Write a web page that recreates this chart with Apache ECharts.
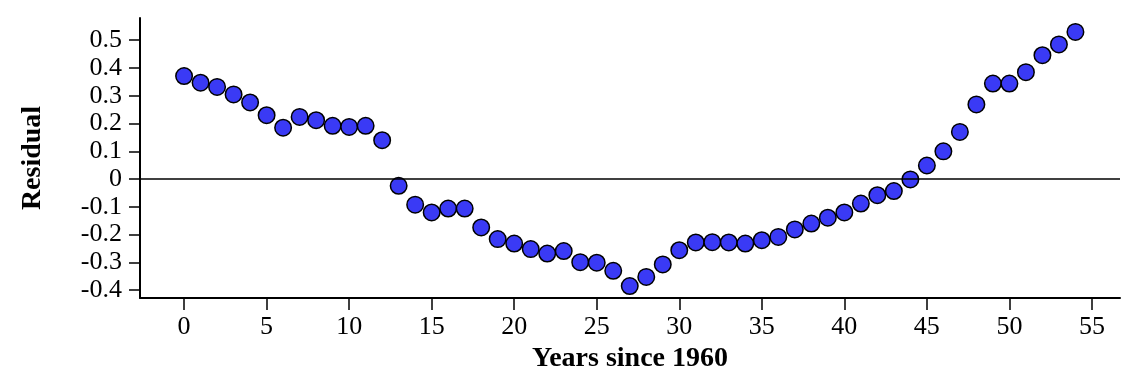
<!DOCTYPE html>
<html>
<head>
<meta charset="utf-8">
<script src="https://cdn.jsdelivr.net/npm/echarts@6/dist/echarts.min.js"></script>
<style>html,body{margin:0;padding:0;background:#fff}#c{width:1130px;height:388px}</style>
</head>
<body>
<div id="c"></div>
<script>
const years = [0,1,2,3,4,5,6,7,8,9,10,11,12,13,14,15,16,17,18,19,20,21,22,23,24,25,26,27,28,29,30,31,32,33,34,35,36,37,38,39,40,41,42,43,44,45,46,47,48,49,50,51,52,53,54];
const residuals = [0.371,0.347,0.332,0.305,0.276,0.230,0.185,0.224,0.212,0.192,0.188,0.192,0.140,-0.024,-0.092,-0.120,-0.106,-0.106,-0.174,-0.216,-0.232,-0.252,-0.268,-0.259,-0.299,-0.301,-0.330,-0.385,-0.352,-0.307,-0.256,-0.228,-0.227,-0.228,-0.232,-0.220,-0.208,-0.181,-0.160,-0.139,-0.120,-0.088,-0.058,-0.043,-0.001,0.049,0.100,0.170,0.269,0.344,0.344,0.385,0.446,0.485,0.530];
const xTicks = [0,5,10,15,20,25,30,35,40,45,50,55];
const yTicks = [-0.4,-0.3,-0.2,-0.1,0,0.1,0.2,0.3,0.4,0.5];

const data = years.map((x,i)=>[x,residuals[i]]);
const font = 'Liberation Serif';
const chart = echarts.init(document.getElementById('c'));
chart.setOption({
  animation:false,
  grid:{left:140,right:10,top:18,bottom:90},
  xAxis:{
    type:'value', min:-2.67, max:56.7,
    name:'Years since 1960', nameLocation:'middle', nameGap:46,
    nameTextStyle:{fontFamily:font,fontWeight:'bold',fontSize:28,color:'#000'},
    axisLine:{show:true,onZero:false,lineStyle:{color:'#000',width:2}},
    axisTick:{show:true,customValues:xTicks,length:12,lineStyle:{color:'#000',width:1.5}},
    axisLabel:{customValues:xTicks,fontFamily:font,fontSize:26,color:'#000',margin:16},
    splitLine:{show:false}
  },
  yAxis:{
    type:'value', min:-0.428, max:0.58,
    name:'Residual', nameLocation:'middle', nameGap:93, nameRotate:90,
    nameTextStyle:{fontFamily:font,fontWeight:'bold',fontSize:28,color:'#000'},
    axisLine:{show:true,onZero:false,lineStyle:{color:'#000',width:2}},
    axisTick:{show:true,customValues:yTicks,length:11,lineStyle:{color:'#000',width:1.5}},
    axisLabel:{customValues:yTicks,fontFamily:font,fontSize:26,color:'#000',margin:18,
      formatter:v=>Math.abs(v)<1e-9?'0':v.toFixed(1)},
    splitLine:{show:false}
  },
  series:[{
    type:'scatter', data:data, symbol:'circle', symbolSize:16.5,
    itemStyle:{color:'#3a3af5',borderColor:'#000',borderWidth:1.5,opacity:1},
    markLine:{silent:true,symbol:['none','none'],label:{show:false},
      lineStyle:{color:'#000',width:1.5,type:'solid'},data:[{yAxis:0}]},
    z:3
  }]
});
</script>
</body>
</html>
